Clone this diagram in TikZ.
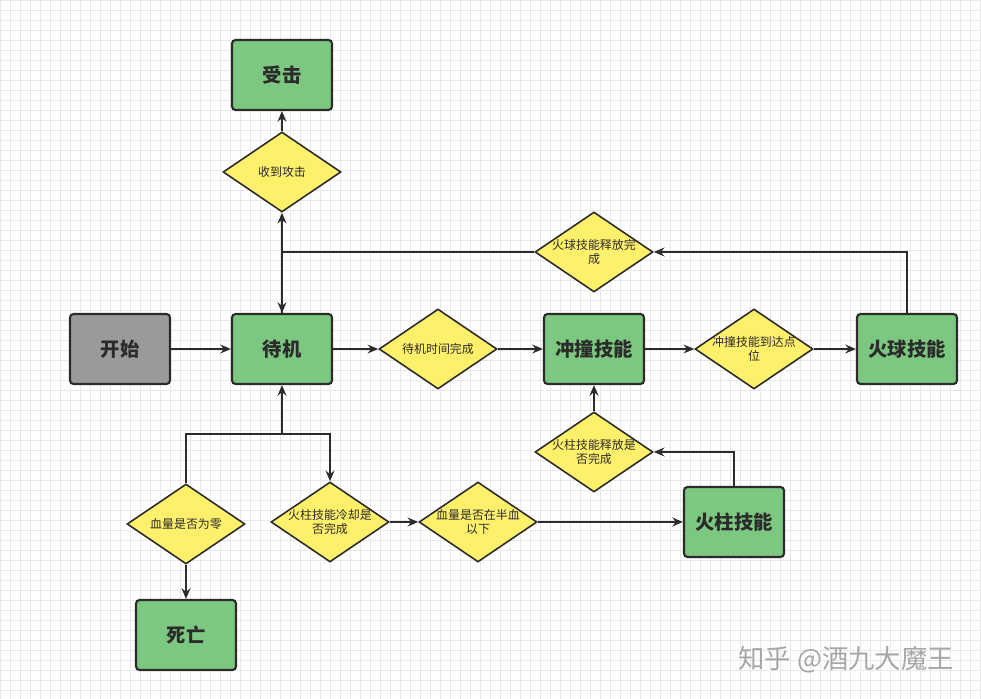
\documentclass[tikz,border=0pt]{standalone}
\usepackage{fontspec}
\setmainfont{Noto Sans CJK SC}
\usepackage{tikz}
\usetikzlibrary{positioning,shapes.geometric,arrows.meta}
\definecolor{boxgreen}{HTML}{7DC880}
\definecolor{diayellow}{HTML}{FFF06B}
\definecolor{boxgray}{HTML}{9A9A9A}
\definecolor{edge}{HTML}{2B2B2B}
\tikzset{
  state/.style={draw=edge, line width=1.2pt, rounded corners=2pt, fill=boxgreen,
    minimum width=100*0.02cm, minimum height=70*0.02cm, font=\bfseries\fontsize{11}{13}\selectfont, text=edge},
  start/.style={state, fill=boxgray},
  decision/.style={draw=edge, line width=0.9pt, diamond, fill=diayellow, inner sep=0pt,
    minimum width=118*0.02cm, minimum height=80*0.02cm,
    label={[align=center, font=\fontsize{6.8}{7.6}\selectfont, text=edge]center:#1}},
  flow/.style={draw=edge, line width=1.1pt, -{Stealth[length=6pt,width=5pt]}}
}
\begin{document}
\begin{tikzpicture}[x=0.02cm, y=-0.02cm]
	\useasboundingbox (0,0) rectangle (981,699);
	\draw [gray!18, line width=0.3pt, step=0.2cm] (0,0) grid (981,699);
	
	% boxes
	\node [state] (hit) at (282,75) {受击};
	\node [start] (begin) at (120,349) {开始};
	\node [state] (idle) at (282,349) {待机};
	\node [state] (dash) at (594,349) {冲撞技能};
	\node [state] (fireball) at (907,349) {火球技能};
	\node [state] (pillar) at (734,522) {火柱技能};
	\node [state] (dead) at (186,635) {死亡};
	
	% decisions
	\node [decision={收到攻击}] (attacked) at (282,172) {};
	\node [decision={待机时间完成}] (idledone) at (438,349) {};
	\node [decision={冲撞技能到达点\\位}] (arrived) at (754,349) {};
	\node [decision={火球技能释放完\\成}] (balldone) at (594,252) {};
	\node [decision={火柱技能释放是\\否完成}] (pillardone) at (594,452) {};
	\node [decision={血量是否为零}] (hpzero) at (186,524) {};
	\node [decision={火柱技能冷却是\\否完成}] (cooldown) at (330,522) {};
	\node [decision={血量是否在半血\\以下}] (hphalf) at (478,522) {};
	
	\coordinate (top) at (282,252);
	\coordinate (low) at (282,434);
	
	\draw [flow] (begin) -- (idle);
	\draw [flow] (idle) -- (attacked);
	\draw [flow] (attacked) -- (hit);
	\draw [flow] (idle) -- (idledone);
	\draw [flow] (idledone) -- (dash);
	\draw [flow] (dash) -- (arrived);
	\draw [flow] (arrived) -- (fireball);
	\draw [flow] (fireball.north) |- (balldone.east);
	\draw [flow] (balldone.west) -- (top) -- (idle.north);
	\draw [flow] (pillar.north) |- (pillardone.east);
	\draw [flow] (pillardone) -- (dash);
	\draw [flow] (hpzero.north) |- (low) -- (idle.south);
	\draw [flow] (low) -| (cooldown.north);
	\draw [flow] (hpzero) -- (dead);
	\draw [flow] (cooldown) -- (hphalf);
	\draw [flow] (hphalf) -- (pillar);
	
	\node [text=gray!70, font=\fontsize{15}{17}\selectfont, anchor=east] (mark) at (960,660) {知乎 @酒九大魔王};
\end{tikzpicture}
\end{document}
